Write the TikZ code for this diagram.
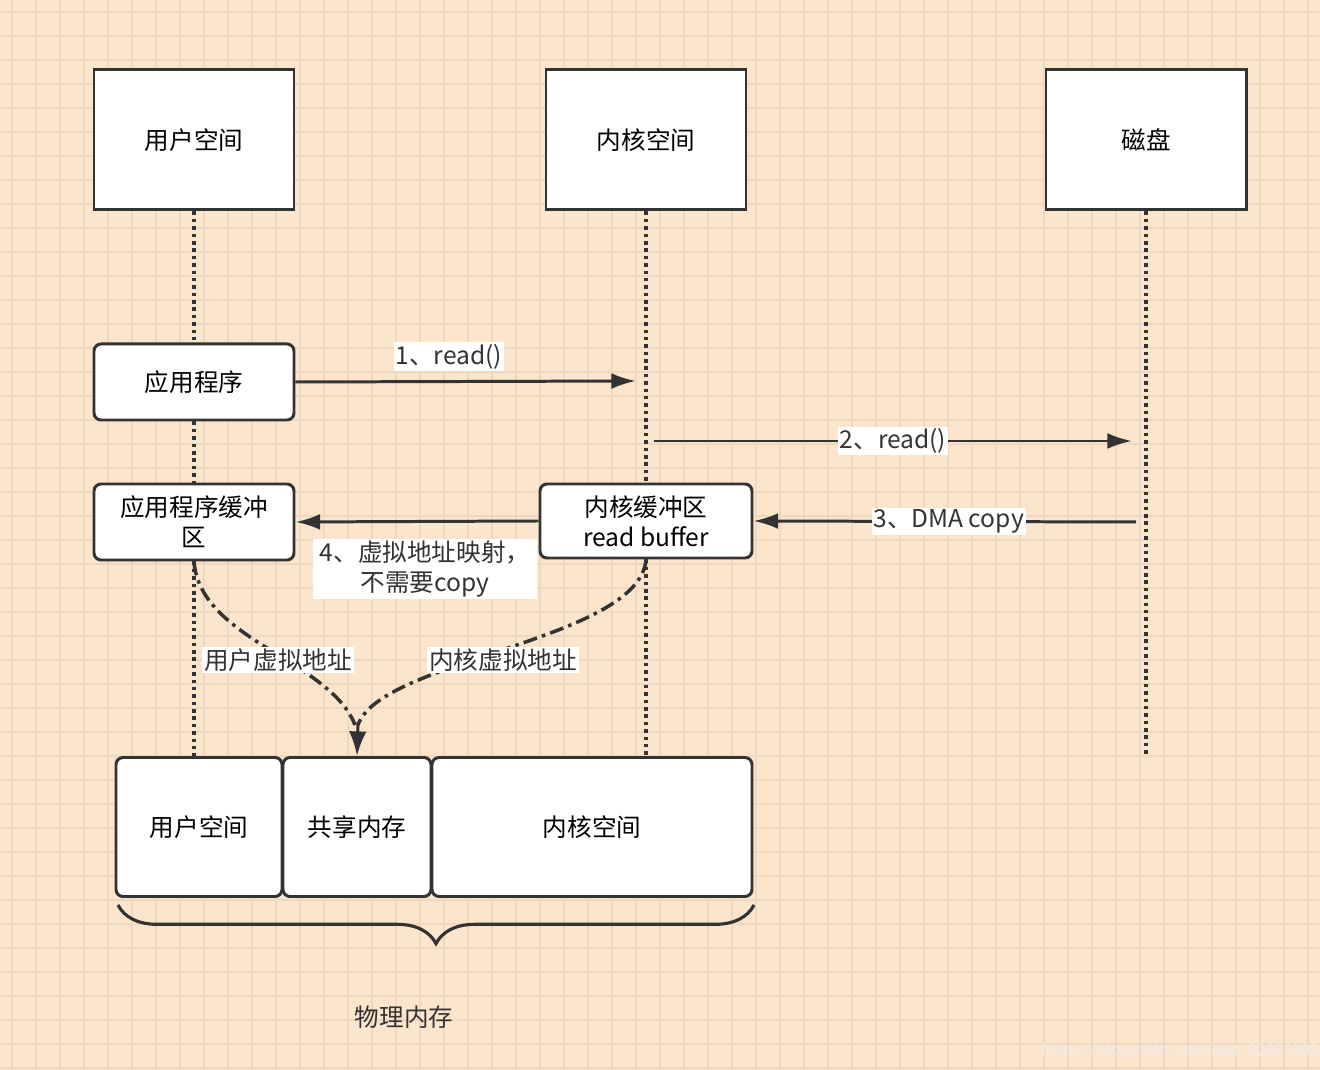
\documentclass[tikz,border=0pt]{standalone}
\usepackage{fontspec}
\setmainfont{Noto Sans CJK SC}
\usetikzlibrary{arrows.meta,decorations.pathreplacing}
\definecolor{bg}{HTML}{FBE6CD}
\definecolor{gridc}{HTML}{EED8BF}
\definecolor{ink}{HTML}{333333}
\begin{document}
\begin{tikzpicture}[x=0.02cm,y=-0.02cm,
  box/.style={draw=ink,line width=1.7pt,fill=white,inner sep=0pt,font=\fontsize{14}{17}\selectfont},
  life/.style={ink,line width=1.8pt,dash pattern=on 2pt off 2.2pt},
  arr/.style={ink,line width=1.7pt,-{Latex[length=14pt,width=9pt]}},
  lab/.style={fill=white,inner sep=1pt,font=\fontsize{14}{17}\selectfont,text=ink},
  dd/.style={ink,line width=2pt,dash pattern=on 8pt off 3pt on 2pt off 3pt}]
\fill[bg] (0,0) rectangle (1320,1070);
\useasboundingbox (0,0) rectangle (1320,1070);
\foreach \i in {0,...,55} \draw[gridc,line width=0.6pt] (12+24*\i,0) -- (12+24*\i,1070);
\foreach \i in {0,...,44} \draw[gridc,line width=0.6pt] (0,12+24*\i) -- (1320,12+24*\i);
% top boxes
\node[box,minimum width=200*0.02cm,minimum height=140*0.02cm] (us) at (194,140) {用户空间};
\node[box,minimum width=200*0.02cm,minimum height=140*0.02cm] (ks) at (646,140) {内核空间};
\node[box,minimum width=200*0.02cm,minimum height=140*0.02cm] (disk) at (1146,140) {磁盘};
\node[box,rounded corners=4pt,minimum width=200*0.02cm,minimum height=76*0.02cm] (app) at (194,382) {应用程序};
\node[box,rounded corners=4pt,minimum width=200*0.02cm,minimum height=76*0.02cm,align=center] (abuf) at (194,522) {应用程序缓冲\\区};
\node[box,rounded corners=4pt,minimum width=212*0.02cm,minimum height=74*0.02cm,align=center] (kbuf) at (646,521) {内核缓冲区\\read buffer};
% bottom
\node[box,rounded corners=4pt,minimum width=166*0.02cm,minimum height=139*0.02cm] (bu) at (199,827) {用户空间};
\node[box,rounded corners=4pt,minimum width=148*0.02cm,minimum height=139*0.02cm] (sh) at (357,827) {共享内存};
\node[box,rounded corners=4pt,minimum width=320*0.02cm,minimum height=139*0.02cm] (bk) at (592,827) {内核空间};
% lifelines
\coordinate (l1) at (194,758);
\coordinate (l2) at (646,758);
\coordinate (l3) at (1146,755);
\draw[life] (us.south) -- (app.north);
\draw[life] (app.south) -- (abuf.north);
\draw[life] (abuf.south) -- (l1);
\draw[life] (ks.south) -- (kbuf.north);
\draw[life] (kbuf.south) -- (l2);
\draw[life] (disk.south) -- (l3);
% arrows
\coordinate (a1) at (636,381);
\draw[arr] (app.east) -- node[lab,pos=0.45,yshift=0.5cm]{1、read()} (a1);
\coordinate (a2s) at (654,441); \coordinate (a2e) at (1132,441);
\draw[arr] (a2s) -- node[lab,pos=0.5]{2、read()} (a2e);
\coordinate (a3s) at (1136,522);
\draw[arr] (a3s) -- node[lab,pos=0.49]{3、DMA copy} (kbuf.east);
\draw[arr] (kbuf.west) -- (abuf.east);
\node[lab,inner xsep=4pt,align=center] (l4) at (425,569) {4、虚拟地址映射，\\不需要copy};
% dash-dot curves
\draw[dd] (abuf.south) .. controls (200,640) and (330,660) .. (355,725);
\draw[dd] (kbuf.south) .. controls (640,640) and (380,660) .. (358,725);
\draw[ink,-{Latex[length=14pt,width=10pt]},line width=1.7pt] (358,722) -- (sh.north);
\node[lab] (u1) at (278,660) {用户虚拟地址};
\node[lab] (u2) at (503,660) {内核虚拟地址};
% brace
\coordinate (b1) at (118,905); \coordinate (b2) at (754,905);
\draw[ink,line width=1.8pt,decorate,decoration={brace,mirror,amplitude=22pt}] (b1) -- (b2);
\node[font=\fontsize{14}{17}\selectfont,text=ink] (pm) at (404,1017) {物理内存};
\node[font=\fontsize{9}{10}\selectfont,text=white!85!gray] (wm) at (1180,1051) {https://blog.csdn.net/sinat\_32023305};
\end{tikzpicture}
\end{document}
